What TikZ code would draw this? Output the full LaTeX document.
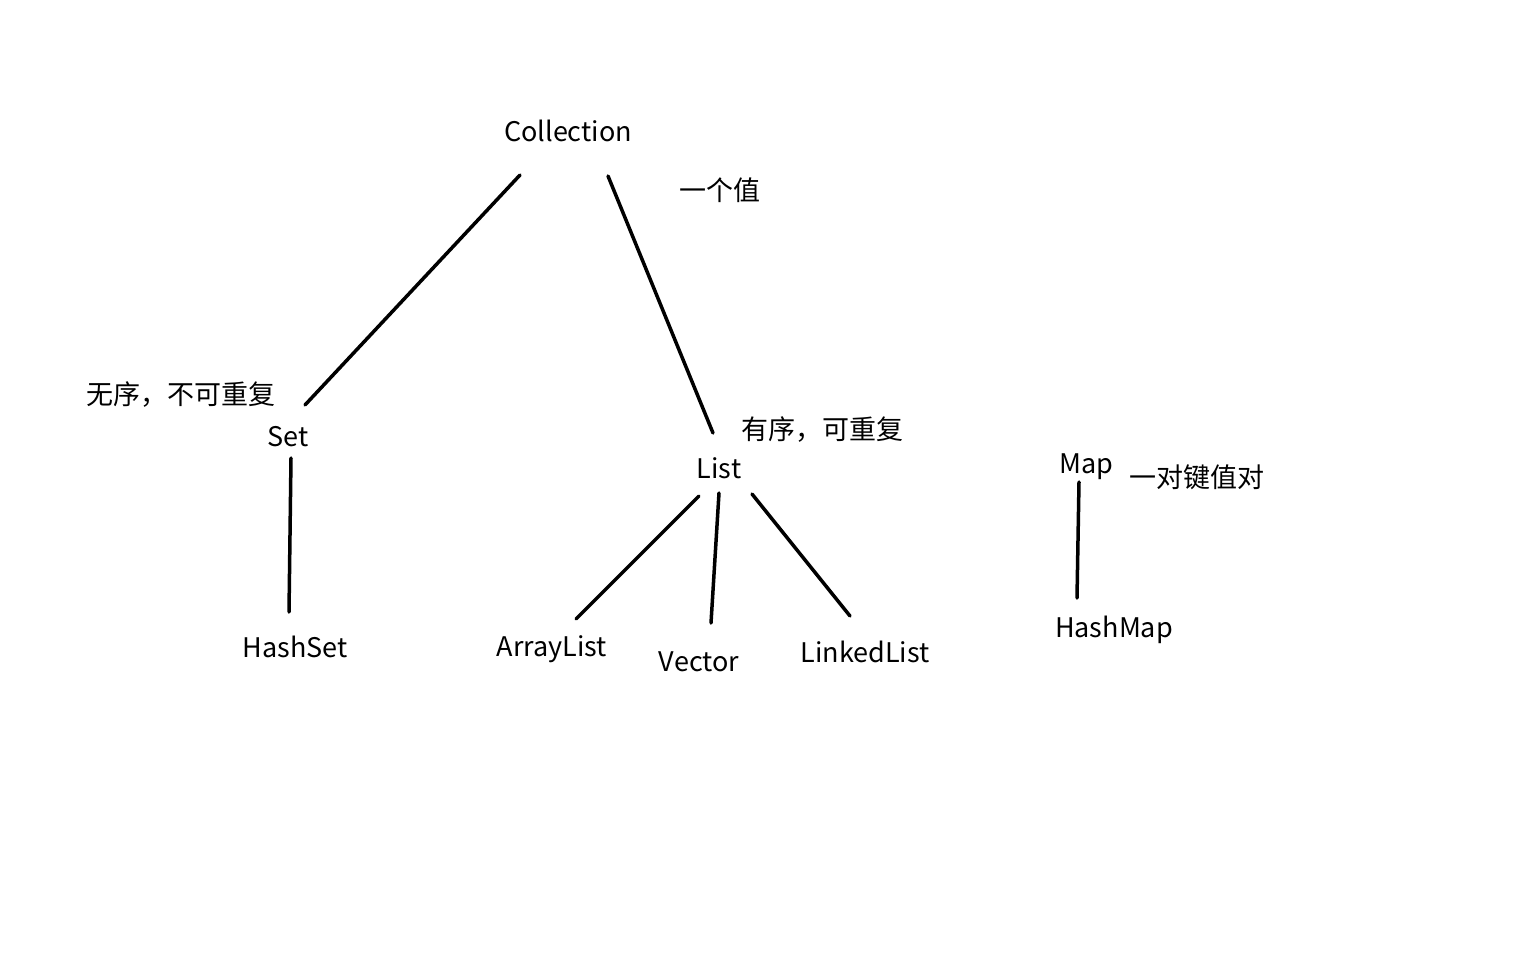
\documentclass[tikz,border=0pt]{standalone}
\usepackage{fontspec}
\setmainfont{Noto Sans CJK SC}
\begin{document}
\begin{tikzpicture}[x=1pt,y=-1pt,
  lbl/.style={inner sep=0pt,font=\fontsize{27}{30}\selectfont},
  edge/.style={line width=3.5pt,line cap=round}]
\useasboundingbox[fill=white] (0,0) rectangle (1536,960);
\node[lbl] (coll) at (568,131) {Collection};
\node[lbl] (one) at (720,190) {一个值};
\node[lbl] (setn) at (181,395) {无序，不可重复};
\node[lbl] (set) at (288,437) {Set};
\node[lbl] (listn) at (822,430) {有序，可重复};
\node[lbl] (list) at (719,468) {List};
\node[lbl] (map) at (1086,467) {Map};
\node[lbl] (mapn) at (1197,477) {一对键值对};
\node[lbl] (hs) at (295,647) {HashSet};
\node[lbl] (al) at (552,649) {ArrayList};
\node[lbl] (vec) at (699,662) {Vector};
\node[lbl] (ll) at (865,652) {LinkedList};
\node[lbl] (hm) at (1114,630) {HashMap};
\coordinate (a1) at (520,175); \coordinate (a2) at (305,405);
\coordinate (b1) at (608,176); \coordinate (b2) at (713,433);
\coordinate (c1) at (291,458); \coordinate (c2) at (289,612);
\coordinate (d1) at (699,496); \coordinate (d2) at (576,619);
\coordinate (e1) at (719,493); \coordinate (e2) at (711,623);
\coordinate (f1) at (752,494); \coordinate (f2) at (850,616);
\coordinate (g1) at (1079,482); \coordinate (g2) at (1077,598);
\draw[edge] (a1)--(a2);
\draw[edge] (b1)--(b2);
\draw[edge] (c1)--(c2);
\draw[edge] (d1)--(d2);
\draw[edge] (e1)--(e2);
\draw[edge] (f1)--(f2);
\draw[edge] (g1)--(g2);
\end{tikzpicture}
\end{document}
